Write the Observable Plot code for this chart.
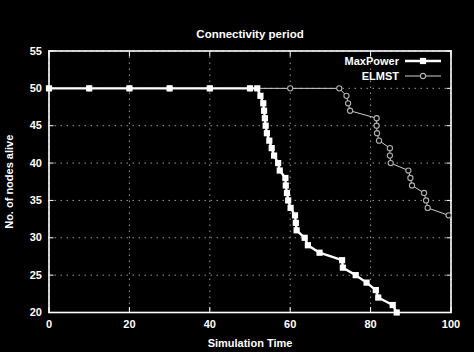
<!DOCTYPE html>
<html>
<head>
<meta charset="utf-8">
<script src="https://cdn.jsdelivr.net/npm/d3@7"></script>
<script src="https://cdn.jsdelivr.net/npm/@observablehq/plot@0.6"></script>
<style>
  html, body { margin: 0; padding: 0; background: #000; }
  #wrap { position: relative; width: 474px; height: 352px; }
  #legend { position: absolute; left: 0; top: 0; pointer-events: none; }
</style>
</head>
<body>
<div id="wrap"></div>
<script>
const titleText = "Connectivity period";
const xLabel = "Simulation Time";
const yLabel = "No. of nodes alive";
const seriesNames = ["MaxPower", "ELMST"];
const xTicks = [0, 20, 40, 60, 80, 100];
const yTicks = [20, 25, 30, 35, 40, 45, 50, 55];

const maxPowerTime = [0, 10, 20, 30, 40, 50, 51.8, 52.6, 53.3, 53.5, 53.7, 53.9, 54.2, 54.8, 55.4, 56.0,
  57.0, 57.4, 58.8, 58.9, 59.2, 59.5, 60.1, 61.2, 61.4, 61.6, 63.6, 64.4, 67.3, 72.9, 73.1, 76.3,
  79.0, 81.3, 81.9, 85.5, 86.5];
const maxPowerNodes = [50, 50, 50, 50, 50, 50, 50, 49, 48, 47, 46, 45, 44, 43, 42, 41,
  40, 39, 38, 37, 36, 35, 34, 33, 32, 31, 30, 29, 28, 27, 26, 25,
  24, 23, 22, 21, 20];

const elmstTime = [0, 10, 20, 30, 40, 50, 60, 72.2, 74.0, 74.4, 74.9, 81.5, 81.5, 81.6, 82.1,
  84.8, 84.8, 85.0, 89.4, 89.9, 90.3, 93.3, 93.8, 94.2, 99.4];
const elmstNodes = [50, 50, 50, 50, 50, 50, 50, 50, 49, 48, 47, 46, 45, 44, 43,
  42, 41, 40, 39, 38, 37, 36, 35, 34, 33];

const maxPower = maxPowerTime.map((t, i) => ({t, n: maxPowerNodes[i]}));
const elmst = elmstTime.map((t, i) => ({t, n: elmstNodes[i]}));

const W = 474, H = 352;
const font = "'Liberation Sans', Arial, sans-serif";

const chart = Plot.plot({
  width: W,
  height: H,
  marginLeft: 48.5,
  marginRight: 23.5,
  marginTop: 50.5,
  marginBottom: 40,
  style: {background: "#000", color: "#fff", fontFamily: font, fontSize: "11px", fontWeight: "bold"},
  x: {domain: [0, 100]},
  y: {domain: [20, 55]},
  marks: [
    Plot.gridX(xTicks, {stroke: "#9a9a9a", strokeOpacity: 1, strokeDasharray: "1.5,4.5"}),
    Plot.gridY(yTicks, {stroke: "#9a9a9a", strokeOpacity: 1, strokeDasharray: "1.5,4.5"}),
    Plot.axisX({ticks: xTicks, tickSize: 0, tickPadding: 8, label: xLabel, labelAnchor: "center", labelArrow: "none", labelOffset: 34, fill: "#fff"}),
    Plot.axisY({ticks: yTicks, tickSize: 0, tickPadding: 7, label: yLabel, labelAnchor: "center", labelArrow: "none", labelOffset: 44, fill: "#fff"}),
    Plot.axisX({ticks: xTicks, anchor: "bottom", tickSize: -5, tickFormat: () => "", label: null, stroke: "#fff"}),
    Plot.axisX({ticks: xTicks, anchor: "top", tickSize: -5, tickFormat: () => "", label: null, stroke: "#fff"}),
    Plot.axisY({ticks: yTicks, anchor: "left", tickSize: -5, tickFormat: () => "", label: null, stroke: "#fff"}),
    Plot.axisY({ticks: yTicks, anchor: "right", tickSize: -5, tickFormat: () => "", label: null, stroke: "#fff"}),
    Plot.frame({stroke: "#fff", strokeWidth: 1.6}),
    Plot.line(elmst, {x: "t", y: "n", stroke: "#d0d0d0", strokeWidth: 1}),
    Plot.dot(elmst, {x: "t", y: "n", r: 2.6, stroke: "#b0b0b0", strokeWidth: 1.1, fill: "#000"}),
    Plot.line(maxPower, {x: "t", y: "n", stroke: "#fff", strokeWidth: 2.4}),
    Plot.dot(maxPower, {x: "t", y: "n", symbol: "square", r: 3.5, fill: "#fff", stroke: "none"}),
    Plot.text([titleText], {text: d => d, frameAnchor: "top", dy: -21, fill: "#fff", fontSize: 11.5})
  ]
});
document.getElementById("wrap").appendChild(chart);

// Legend overlay (upper right inside the frame)
const leg = d3.select("#wrap").append("svg")
  .attr("id", "legend").attr("width", W).attr("height", H)
  .style("font-family", font).style("font-size", "11px").style("font-weight", "bold");
const legendRows = [
  {name: seriesNames[0], y: 61, stroke: "#fff", sw: 2.4, sym: "square"},
  {name: seriesNames[1], y: 76, stroke: "#d0d0d0", sw: 1, sym: "circle"}
];
legendRows.forEach(r => {
  leg.append("text").attr("x", 399).attr("y", r.y).attr("dy", "0.35em")
    .attr("text-anchor", "end").attr("fill", "#fff").text(r.name);
  leg.append("line").attr("x1", 405).attr("x2", 441).attr("y1", r.y).attr("y2", r.y)
    .attr("stroke", r.stroke).attr("stroke-width", r.sw);
  if (r.sym === "square") {
    leg.append("rect").attr("x", 423 - 3.1).attr("y", r.y - 3.1).attr("width", 6.2).attr("height", 6.2).attr("fill", "#fff");
  } else {
    leg.append("circle").attr("cx", 423).attr("cy", r.y).attr("r", 2.6)
      .attr("fill", "#000").attr("stroke", "#b0b0b0").attr("stroke-width", 1.1);
  }
});
</script>
</body>
</html>
